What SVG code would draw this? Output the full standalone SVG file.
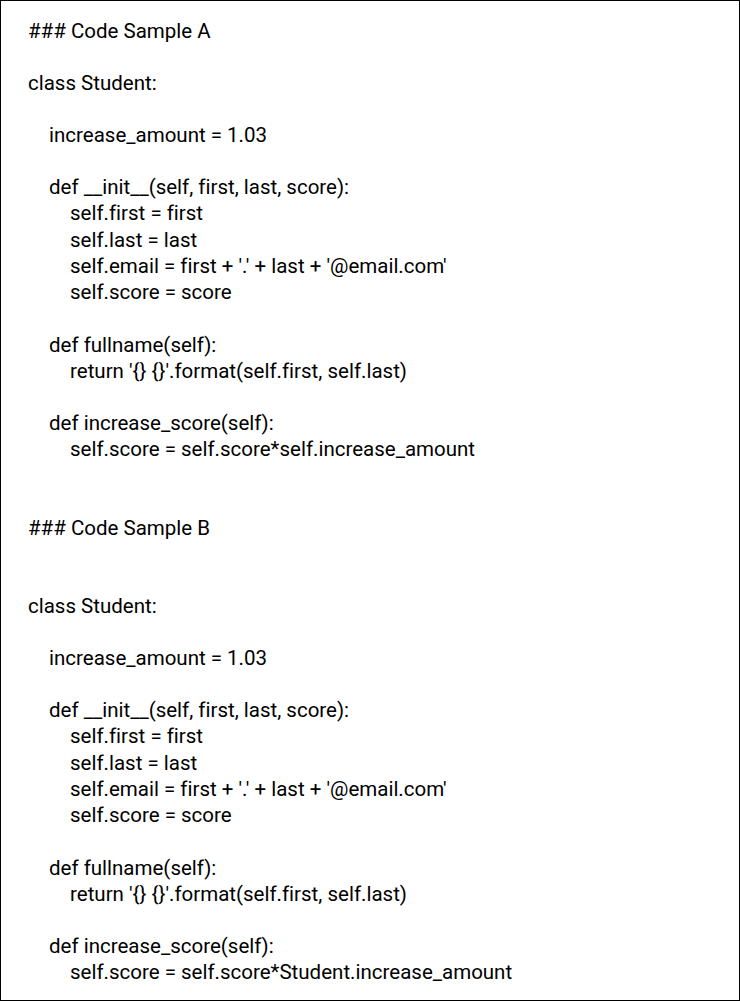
<svg xmlns="http://www.w3.org/2000/svg" width="740" height="1001" viewBox="0 0 740 1001">
<style>text{font-family:Roboto,"Liberation Sans",sans-serif;font-size:20.5px;fill:#000;font-variant-ligatures:none}</style>
<rect x="0.5" y="0.5" width="739" height="1000" fill="#fff" stroke="#000" stroke-width="1"/>
<g id="sampleA">
<text x="28" y="38">### Code Sample A</text>
<text x="28" y="90">class Student:</text>
<text x="49" y="142">increase_amount = 1.03</text>
<text x="49" y="194">def __init__(self, first, last, score):</text>
<text x="70" y="220">self.first = first</text>
<text x="70" y="247">self.last = last</text>
<text x="70" y="273">self.email = first + '.' + last + '@email.com'</text>
<text x="70" y="299">self.score = score</text>
<text x="49" y="352">def fullname(self):</text>
<text x="70" y="378">return '{} {}'.format(self.first, self.last)</text>
<text x="49" y="430">def increase_score(self):</text>
<text x="70" y="456">self.score = self.score*self.increase_amount</text>
</g>
<g id="sampleB">
<text x="28" y="535">### Code Sample B</text>
<text x="28" y="613">class Student:</text>
<text x="49" y="665">increase_amount = 1.03</text>
<text x="49" y="717">def __init__(self, first, last, score):</text>
<text x="70" y="743">self.first = first</text>
<text x="70" y="770">self.last = last</text>
<text x="70" y="796">self.email = first + '.' + last + '@email.com'</text>
<text x="70" y="822">self.score = score</text>
<text x="49" y="875">def fullname(self):</text>
<text x="70" y="901">return '{} {}'.format(self.first, self.last)</text>
<text x="49" y="953">def increase_score(self):</text>
<text x="70" y="979">self.score = self.score*Student.increase_amount</text>
</g>
<g id="connectors"/>
</svg>
